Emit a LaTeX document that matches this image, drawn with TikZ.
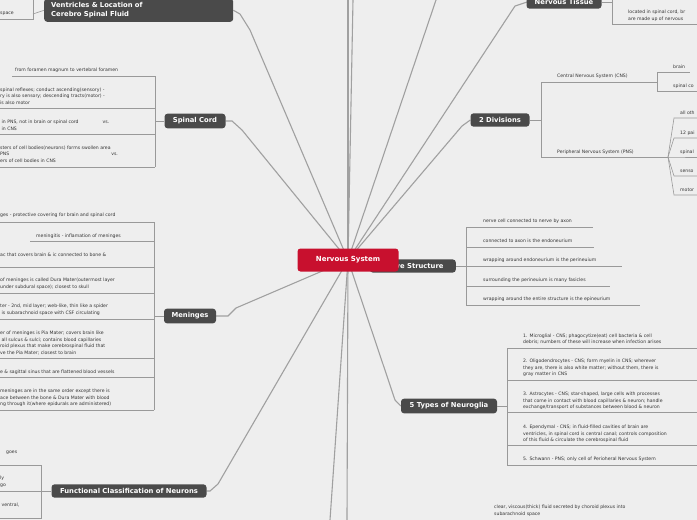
\documentclass[tikz,border=0pt]{standalone}
\usepackage{fontspec}
\setmainfont{DejaVu Sans}
\usetikzlibrary{backgrounds}
\definecolor{bgc}{HTML}{EEEEEE}
\definecolor{dark}{HTML}{4A4A4A}
\definecolor{redc}{HTML}{C8102E}
\definecolor{lc}{HTML}{A0A0A0}
\definecolor{tc}{HTML}{333333}
\tikzset{
 topic/.style={fill=dark,text=white,rounded corners=3pt,font=\fontsize{6.8}{8.5}\selectfont\bfseries,inner xsep=6pt,inner ysep=4pt,align=left},
 leaf/.style={text=tc,font=\fontsize{4.6}{6.6}\selectfont,inner sep=0pt,align=left},
 branch/.style={draw=lc,line width=1.1pt},
 brk/.style={draw=gray!80,line width=0.6pt}
}
\begin{document}
\begin{tikzpicture}[x=1pt,y=-1pt]
\begin{scope}[on background layer]
\fill[bgc] (0,0) rectangle (697,520);
\end{scope}
\useasboundingbox (0,0) rectangle (697,520);
% topics
\node[topic,anchor=east,minimum width=86pt,align=right] (nst) at (456,266) {Nerve Structure};
\node[fill=redc,text=white,rounded corners=3pt,font=\fontsize{7}{8}\selectfont\bfseries,minimum width=101pt,minimum height=23pt] (ns) at (348,260) {Nervous System};
\node[topic,anchor=south west,text width=175pt,inner xsep=7pt] (vent) at (44,22) {Ventricles \& Location of\\Cerebro Spinal Fluid};
\node[topic,minimum width=61pt] (sc) at (195,121) {Spinal Cord};
\node[topic,minimum width=52pt] (men) at (190,316) {Meninges};
\node[topic,minimum width=155pt] (fc) at (129,491) {Functional Classification of Neurons};
\node[topic,minimum width=75pt] (nt) at (564,2) {Nervous Tissue};
\node[topic,minimum width=59pt] (div) at (500,120) {2 Divisions};
\node[topic,minimum width=96pt] (neu) at (449,406) {5 Types of Neuroglia};
\coordinate (t1) at (348,0); \coordinate (t2) at (353,0); \coordinate (t3) at (436,0);
\coordinate (b1) at (330,520); \coordinate (b2) at (347,520);
\begin{scope}[on background layer]
\draw[branch] (ns.center) -- (250,30) -- (240,14) -- (vent.east);
\draw[branch] (ns.center) -- (242,130) -- (232,121) -- (sc.east);
\draw[branch] (ns.center) -- (236,308) -- (228,316) -- (men.east);
\draw[branch] (ns.center) -- (218,484) -- (210,491) -- (fc.east);
\draw[branch] (ns.center) -- (515,6) -- (527,2);
\draw[branch] (ns.center) -- (462,126) -- (div.west);
\draw[branch] (ns.center) -- (395,400) -- (neu.west);
\draw[branch] (ns.center) -- (t1); \draw[branch] (ns.center) -- (t2); \draw[branch] (ns.center) -- (t3);
\draw[branch] (ns.center) -- (b1); \draw[branch] (ns.center) -- (b2);
\end{scope}
% Ventricles leaf
\draw[brk] (vent.west) -- (33,14); \draw[brk] (33,-5) -- (33,19) -- (0,19);
\node[leaf,anchor=west] at (0,14) {space};
% Spinal cord
\draw[brk] (sc.west) -- (155,121); \draw[brk] (155,76) -- (155,167);
\foreach \y/\a in {76/12,108/0,134/0,167/0} \draw[brk] (\a,\y) -- (155,\y);
\node[leaf,anchor=west] at (15,70) {from foramen magnum to vertebral foramen};
\node[leaf,anchor=west] at (0,96) {spinal reflexes; conduct ascending(sensory) -\\ry is also sensory; descending tracts(motor) -\\is also motor};
\node[leaf,anchor=west] at (0,125) {\ in PNS, not in brain or spinal cord\hspace{24pt}vs.\\\ in CNS};
\node[leaf,anchor=west] at (0,154) {sters of cell bodies(neurons) forms swollen area\\PNS\hspace{102pt}vs.\\ers of cell bodies in CNS};
% Meninges
\draw[brk] (men.west) -- (154,316); \draw[brk] (154,222) -- (154,410);
\foreach \y/\a in {222/0,241/30,267/0,293/0,319/0,358/0,377/0,410/0} \draw[brk] (\a,\y) -- (154,\y);
\node[leaf,anchor=west] at (0,215) {ges - protective covering for brain and spinal cord};
\node[leaf,anchor=west] at (36,236) {meningitis - inflamation of meninges};
\node[leaf,anchor=west] at (0,255) {ac that covers brain \& ic connected to bone \&};
\node[leaf,anchor=west] at (0,284) {of meninges is called Dura Mater(outermost layer\\under subdural space); closest to skull};
\node[leaf,anchor=west] at (0,310) {ter - 2nd, mid layer; web-like, thin like a spider\\\ is subarachnoid space with CSF circulating};
\node[leaf,anchor=west] at (0,343) {er of meninges is Pia Mater; covers brain like\\\ all sulcus \& sulci; contains blood capillaries\\roid plexus that make cerebrospinal fluid that\\ve the Pia Mater; closest to brain};
\node[leaf,anchor=west] at (0,372) {e \& sagittal sinus that are flattened blood vessels};
\node[leaf,anchor=west] at (0,398) {meninges are in the same order except there is\\ace between the bone \& Dura Mater with blood\\ng through it(where epidurals are administered)};
% Functional
\draw[brk] (fc.west) -- (41,491); \draw[brk] (0,465) -- (41,465) -- (41,518) -- (0,518); \draw[brk] (0,491) -- (41,491);
\node[leaf,anchor=west] at (6,453) {goes};
\node[leaf,anchor=west] at (0,482) {ly\\go};
\node[leaf,anchor=west] at (0,505) {\ ventral,};
% Nervous tissue
\draw[brk] (nt.east) -- (612,2); \draw[brk] (612,-5) -- (612,24) -- (697,24);
\node[leaf,anchor=west] at (628,16) {located in spinal cord, br\\are made up of nervous};
% 2 Divisions
\draw[brk] (div.east) -- (541,120); \draw[brk] (541,82) -- (541,157);
\draw[brk] (541,82) -- (648,82); \draw[brk] (541,157) -- (656,157);
\node[leaf,anchor=west] (cns) at (557,76) {Central Nervous System (CNS)};
\node[leaf,anchor=west] (pns) at (557,152) {Peripheral Nervous System (PNS)};
\draw[brk] (648,82) -- (657,82); \draw[brk] (657,72) -- (657,91);
\draw[brk] (657,72) -- (690,72); \draw[brk] (657,91) -- (697,91);
\node[leaf,anchor=west] at (673,67) {brain};
\node[leaf,anchor=west] at (673,86) {spinal co};
\draw[brk] (656,157) -- (668,157);
\foreach \y/\t in {118/all oth,138/12 pai,157/spinal,176/senso,195/motor}{
 \draw[brk] (668,157) -- (674,\y) -- (697,\y);
 \node[leaf,anchor=west] at (680,\y-5) {\t};}
% Nerve structure
\draw[brk] (nst.east) -- (466,266); \draw[brk] (466,227) -- (466,305);
\foreach \y/\e/\t in {227/593/nerve cell connected to nerve by axon,247/594/connected to axon is the endoneurium,266/622/wrapping around endoneurium is the perineuium,286/610/surrounding the perineuium is many fasicles,305/640/wrapping around the entire structure is the epineurium}{
 \draw[brk] (466,\y) -- (\e,\y);
 \node[leaf,anchor=west] at (483,\y-6) {\t};}
% Neuroglia
\draw[brk] (neu.east) -- (507,406); \draw[brk] (507,348) -- (507,465);
\foreach \y in {348,380,412,445,465} \draw[brk] (507,\y) -- (697,\y);
\node[leaf,anchor=west] at (523,339) {1. Microglial - CNS; phagocytize(eat) cell bacteria \& cell\\debris; numbers of these will increase when infection arises};
\node[leaf,anchor=west] at (523,368) {2. Oligodendrocytes - CNS; form myelin in CNS; wherever\\they are, there is also white matter; without them, there is\\gray matter in CNS};
\node[leaf,anchor=west] at (523,401) {3. Astrocytes - CNS; star-shaped, large cells with processes\\that come in contact with blood capillaries \& neuron; handle\\exchange/transport of substances between blood \& neuron};
\node[leaf,anchor=west] at (523,434) {4. Ependymal - CNS; in fluid-filled cavities of brain are\\ventricles, in spinal cord is central canal; controls composition\\of this fluid \& circulate the cerebrospinal fluid};
\node[leaf,anchor=west] at (523,459) {5. Schwann - PNS; only cell of Perioheral Nervous System};
\node[leaf,anchor=west] at (494,511) {clear, viscous(thick) fluid secreted by choroid plexus into\\subarachnoid space};
\end{tikzpicture}
\end{document}
